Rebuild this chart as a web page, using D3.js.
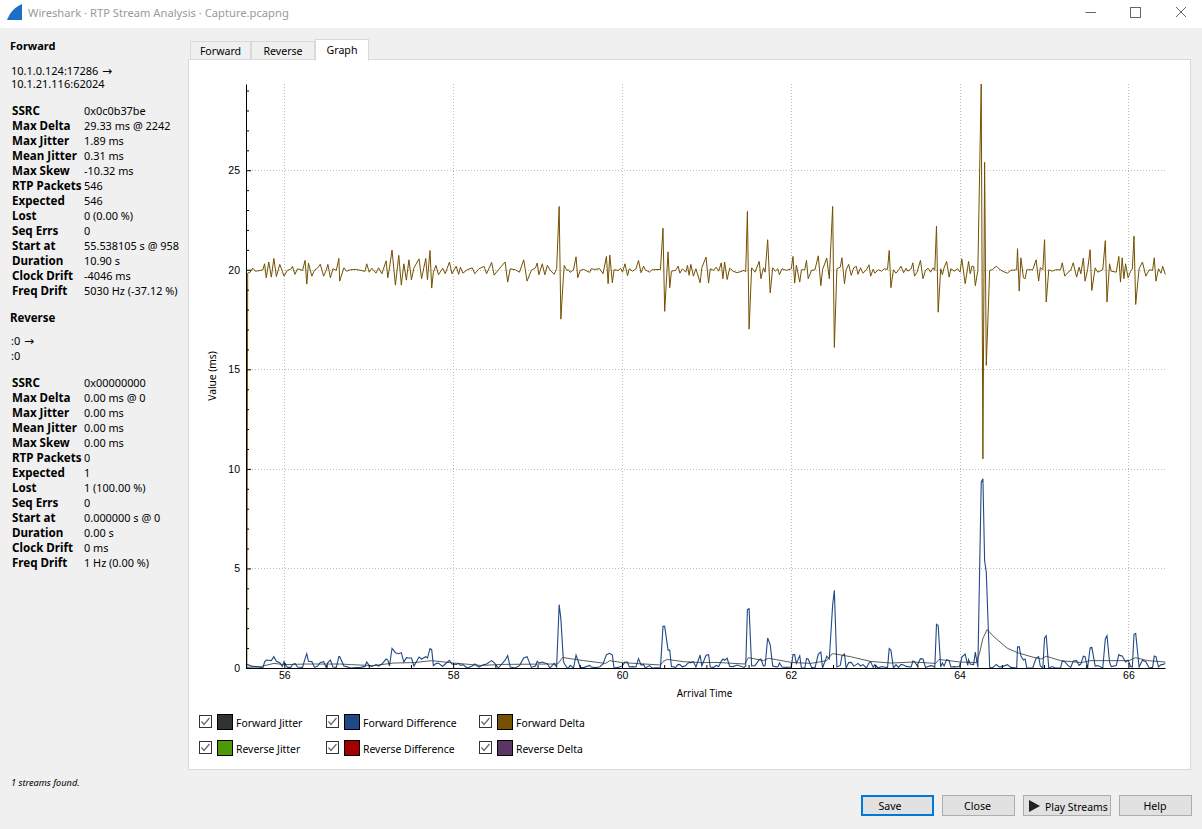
<!DOCTYPE html>
<html>
<head>
<meta charset="utf-8">
<title>RTP Stream Analysis</title>
<script src="https://cdnjs.cloudflare.com/ajax/libs/d3/7.8.5/d3.min.js"></script>
<style>
  html, body { margin: 0; padding: 0; background: #f0f0f0; overflow: hidden; }
  svg { display: block; font-family: "Noto Sans", sans-serif; font-size: 11px; fill: #000; }
  .axis text { font-size: 10.5px; fill: #000; }
  .grid { stroke: #bdbdbd; stroke-width: 1; stroke-dasharray: 1 2; }
</style>
</head>
<body>
<div id="main"></div>
<script>
const packetTimes = [
  55.55, 55.56, 55.59, 55.62, 55.65, 55.69, 55.74, 55.76, 55.78, 55.81,
  55.84, 55.87, 55.90, 55.94, 55.97, 55.99, 56.03, 56.07, 56.09, 56.12,
  56.15, 56.21, 56.24, 56.26, 56.28, 56.32, 56.35, 56.39, 56.42, 56.46,
  56.49, 56.51, 56.54, 56.57, 56.61, 56.64, 56.65, 56.70, 56.73, 56.78,
  56.84, 56.90, 56.95, 56.97, 57.00, 57.03, 57.08, 57.11, 57.15, 57.20,
  57.22, 57.24, 57.27, 57.31, 57.35, 57.38, 57.41, 57.44, 57.47, 57.50,
  57.53, 57.59, 57.62, 57.67, 57.69, 57.72, 57.74, 57.76, 57.79, 57.82,
  57.87, 57.90, 57.95, 57.98, 58.03, 58.06, 58.08, 58.11, 58.16, 58.22,
  58.25, 58.30, 58.36, 58.39, 58.45, 58.48, 58.53, 58.61, 58.64, 58.67,
  58.73, 58.78, 58.83, 58.87, 58.92, 58.97, 58.99, 59.01, 59.05, 59.08,
  59.11, 59.14, 59.19, 59.22, 59.25, 59.27, 59.30, 59.31, 59.34, 59.36,
  59.38, 59.42, 59.45, 59.47, 59.50, 59.54, 59.61, 59.63, 59.67, 59.73,
  59.77, 59.81, 59.83, 59.85, 59.88, 59.90, 59.95, 59.98, 60.00, 60.03,
  60.06, 60.08, 60.12, 60.16, 60.19, 60.22, 60.25, 60.27, 60.32, 60.35,
  60.45, 60.48, 60.50, 60.54, 60.56, 60.58, 60.63, 60.66, 60.68, 60.71,
  60.75, 60.77, 60.79, 60.81, 60.84, 60.87, 60.92, 60.94, 60.99, 61.02,
  61.04, 61.08, 61.11, 61.14, 61.17, 61.19, 61.21, 61.24, 61.27, 61.31,
  61.36, 61.44, 61.46, 61.48, 61.50, 61.53, 61.57, 61.62, 61.64, 61.67,
  61.69, 61.72, 61.75, 61.78, 61.81, 61.84, 61.86, 61.89, 61.94, 62.00,
  62.02, 62.04, 62.06, 62.10, 62.12, 62.16, 62.18, 62.20, 62.24, 62.28,
  62.32, 62.35, 62.37, 62.42, 62.45, 62.49, 62.51, 62.54, 62.58, 62.60,
  62.63, 62.65, 62.68, 62.71, 62.74, 62.77, 62.79, 62.82, 62.85, 62.89,
  62.92, 62.94, 62.97, 62.99, 63.03, 63.07, 63.10, 63.14, 63.16, 63.18,
  63.21, 63.24, 63.27, 63.30, 63.33, 63.36, 63.38, 63.42, 63.44, 63.46,
  63.49, 63.53, 63.56, 63.59, 63.62, 63.65, 63.68, 63.70, 63.72, 63.74,
  63.77, 63.79, 63.81, 63.84, 63.87, 63.89, 63.93, 63.97, 64.00, 64.02,
  64.06, 64.09, 64.10, 64.12, 64.14, 64.16, 64.18, 64.21, 64.25, 64.27,
  64.29, 64.31, 64.35, 64.38, 64.43, 64.46, 64.50, 64.56, 64.60, 64.67,
  64.68, 64.70, 64.72, 64.75, 64.77, 64.79, 64.86, 64.90, 64.93, 64.95,
  64.98, 65.00, 65.02, 65.05, 65.09, 65.13, 65.19, 65.21, 65.24, 65.28,
  65.31, 65.34, 65.38, 65.41, 65.43, 65.46, 65.48, 65.51, 65.54, 65.56,
  65.60, 65.63, 65.69, 65.72, 65.74, 65.77, 65.79, 65.85, 65.88, 65.90,
  65.92, 65.94, 65.96, 65.99, 66.02, 66.04, 66.06, 66.08, 66.12, 66.16,
  66.20, 66.24, 66.28, 66.30, 66.32, 66.35, 66.38, 66.40, 66.43,
];

const forwardDelta = [
  0, 19.83, 19.88, 20.08, 19.93, 19.95, 20, 20.3, 19.6, 20.39,
  19.63, 20.57, 19.66, 20.27, 19.93, 19.68, 19.97, 20.03, 20.17, 19.77,
  20.05, 19.97, 20.47, 19.28, 20.34, 19.68, 19.97, 20.1, 20.28, 19.68,
  19.97, 20.27, 19.6, 20.05, 19.97, 20.57, 19.43, 20.1, 19.93, 20,
  20.02, 19.97, 19.92, 20.3, 19.88, 20.08, 19.83, 20.1, 19.8, 20.45,
  19.6, 20.1, 20.99, 19.23, 20.72, 19.23, 20.3, 19.48, 20.5, 19.5,
  20.1, 20.55, 19.55, 20.57, 19.5, 20.97, 19.08, 19.88, 20.22, 19.75,
  20.08, 19.8, 20.39, 19.8, 20.18, 19.77, 20.13, 19.83, 20, 20.1,
  19.8, 20.05, 20.17, 19.8, 20.37, 19.73, 20, 20.39, 19.38, 20.05,
  20, 19.88, 20.5, 19.43, 19.97, 20.1, 20.34, 19.75, 20.3, 19.75,
  20.22, 20, 19.77, 20.05, 23.18, 17.52, 19.63, 20.22, 19.97, 20,
  19.87, 20, 20.65, 19.6, 19.97, 20.02, 19.87, 20.05, 20.02, 20.05,
  19.8, 20.67, 19.3, 20.74, 19.35, 20, 19.97, 20.07, 19.88, 20.3,
  19.7, 20.05, 19.93, 20.05, 20.47, 19.85, 20.18, 20, 19.88, 20,
  20.02, 22.09, 17.91, 20.9, 19.1, 19.93, 19.97, 20.18, 19.83, 20.05,
  19.88, 20.22, 19.72, 20.27, 19.68, 20.05, 19.35, 20.1, 20.64, 19.33,
  20.05, 19.97, 20.13, 19.93, 20.35, 19.55, 20.39, 19.51, 20.08, 19.93,
  19.85, 19.97, 19.9, 22.93, 17.02, 20.1, 19.88, 20.42, 19.55, 20.1,
  19.88, 21.51, 18.84, 20.1, 19.93, 20.05, 19.75, 20.05, 19.97, 20.05,
  20.67, 19.33, 20.23, 19.38, 20, 20, 20.47, 19.55, 19.97, 20,
  20.7, 19.2, 20, 20.59, 19.55, 23.18, 16.1, 20.05, 20.13, 20.6,
  19.3, 20, 20.27, 19.72, 20.1, 20.17, 19.77, 20.1, 19.83, 20,
  20.25, 19.68, 20.03, 19.83, 20, 19.93, 20.05, 20.02, 20.97, 19.1,
  20, 19.83, 19.97, 20.18, 19.85, 20.08, 19.93, 20.05, 20.35, 19.68,
  19.88, 20.47, 19.55, 19.97, 20.08, 19.88, 20.1, 19.97, 22.19, 17.87,
  20.05, 19.75, 20.1, 20.42, 19.63, 20.05, 19.93, 20.05, 19.88, 20.55,
  19.3, 20.13, 20.42, 19.8, 20.18, 20.17, 19.2, 19.97, 29.33, 10.5,
  25.4, 15.2, 19.97, 20, 20.18, 20.05, 19.93, 19.83, 19.97, 20,
  21.06, 18.93, 20.6, 19.6, 19.55, 20, 20, 20.5, 19.43, 20.1,
  20, 21.51, 18.38, 20, 19.93, 20, 20, 20.35, 19.68, 19.88,
  19.97, 20.35, 19.63, 20.13, 19.8, 20.59, 19.43, 20, 21.01, 18.96,
  20.1, 19.88, 20, 21.46, 18.38, 20.3, 19.93, 19.88, 20.67, 19.38,
  20.6, 19.55, 20.3, 19.6, 19.93, 20.05, 21.69, 18.26, 20.05, 20.39,
  19.68, 20, 19.97, 20.6, 19.43, 20.05, 19.83, 20.17, 19.77,
];

const forwardDifference = [
  0.17, 0.17, 0.12, 0.08, 0.07, 0.05, 0, 0.3, 0.4, 0.39,
  0.37, 0.57, 0.34, 0.27, 0.07, 0.32, 0.03, 0.03, 0.17, 0.23,
  0.05, 0.03, 0.47, 0.72, 0.34, 0.32, 0.03, 0.1, 0.28, 0.32,
  0.03, 0.27, 0.4, 0.05, 0.03, 0.57, 0.57, 0.1, 0.07, 0,
  0.02, 0.03, 0.08, 0.3, 0.12, 0.08, 0.17, 0.1, 0.2, 0.45,
  0.4, 0.1, 0.99, 0.77, 0.72, 0.77, 0.3, 0.52, 0.5, 0.5,
  0.1, 0.55, 0.45, 0.57, 0.5, 0.97, 0.92, 0.12, 0.22, 0.25,
  0.08, 0.2, 0.39, 0.2, 0.18, 0.23, 0.13, 0.17, 0, 0.1,
  0.2, 0.05, 0.17, 0.2, 0.37, 0.27, 0, 0.39, 0.62, 0.05,
  0, 0.12, 0.5, 0.57, 0.03, 0.1, 0.34, 0.25, 0.3, 0.25,
  0.22, 0, 0.23, 0.05, 3.18, 2.48, 0.37, 0.22, 0.03, 0,
  0.13, 0, 0.65, 0.4, 0.03, 0.02, 0.13, 0.05, 0.02, 0.05,
  0.2, 0.67, 0.7, 0.74, 0.65, 0, 0.03, 0.07, 0.12, 0.3,
  0.3, 0.05, 0.07, 0.05, 0.47, 0.15, 0.18, 0, 0.12, 0,
  0.02, 2.09, 2.09, 0.9, 0.9, 0.07, 0.03, 0.18, 0.17, 0.05,
  0.12, 0.22, 0.28, 0.27, 0.32, 0.05, 0.65, 0.1, 0.64, 0.67,
  0.05, 0.03, 0.13, 0.07, 0.35, 0.45, 0.39, 0.49, 0.08, 0.07,
  0.15, 0.03, 0.1, 2.93, 2.98, 0.1, 0.12, 0.42, 0.45, 0.1,
  0.12, 1.51, 1.16, 0.1, 0.07, 0.05, 0.25, 0.05, 0.03, 0.05,
  0.67, 0.67, 0.23, 0.62, 0, 0, 0.47, 0.45, 0.03, 0,
  0.7, 0.8, 0, 0.59, 0.45, 3.18, 3.9, 0.05, 0.13, 0.6,
  0.7, 0, 0.27, 0.28, 0.1, 0.17, 0.23, 0.1, 0.17, 0,
  0.25, 0.32, 0.03, 0.17, 0, 0.07, 0.05, 0.02, 0.97, 0.9,
  0, 0.17, 0.03, 0.18, 0.15, 0.08, 0.07, 0.05, 0.35, 0.32,
  0.12, 0.47, 0.45, 0.03, 0.08, 0.12, 0.1, 0.03, 2.19, 2.13,
  0.05, 0.25, 0.1, 0.42, 0.37, 0.05, 0.07, 0.05, 0.12, 0.55,
  0.7, 0.13, 0.42, 0.2, 0.18, 0.17, 0.8, 0.03, 9.33, 9.5,
  5.4, 4.8, 0.03, 0, 0.18, 0.05, 0.07, 0.17, 0.03, 0,
  1.06, 1.07, 0.6, 0.4, 0.45, 0, 0, 0.5, 0.57, 0.1,
  0, 1.51, 1.62, 0, 0.07, 0, 0, 0.35, 0.32, 0.12,
  0.03, 0.35, 0.37, 0.13, 0.2, 0.59, 0.57, 0, 1.01, 1.04,
  0.1, 0.12, 0, 1.46, 1.62, 0.3, 0.07, 0.12, 0.67, 0.62,
  0.6, 0.45, 0.3, 0.4, 0.07, 0.05, 1.69, 1.74, 0.05, 0.39,
  0.32, 0, 0.03, 0.6, 0.57, 0.05, 0.17, 0.17, 0.23,
];

const jitterTimes = [
  55.55, 55.71, 55.87, 56, 56.26, 56.66, 56.78, 57.05, 57.29, 57.53, 57.74, 58,
  58.32, 58.58, 59.14, 59.23, 59.26, 59.29, 59.38, 59.54, 59.8, 59.85, 60, 60.45,
  60.48, 60.53, 60.72, 60.92, 61.12, 61.45, 61.49, 61.67, 61.73, 61.91, 62, 62.23,
  62.42, 62.48, 62.5, 62.7, 62.94, 63.18, 63.45, 63.71, 63.75, 64, 64.19, 64.23,
  64.27, 64.32, 64.4, 64.56, 64.68, 64.84, 64.96, 65.02, 65.19, 65.43, 65.55, 65.75,
  65.87, 66, 66.08, 66.22, 66.43,
];

const forwardJitter = [
  0.03, 0.07, 0.23, 0.17, 0.2, 0.2, 0.17, 0.12, 0.25, 0.27, 0.37, 0.25,
  0.13, 0.18, 0.2, 0.2, 0.35, 0.53, 0.47, 0.37, 0.23, 0.37, 0.27, 0.15,
  0.32, 0.43, 0.32, 0.27, 0.28, 0.2, 0.52, 0.37, 0.49, 0.35, 0.28, 0.23,
  0.37, 0.7, 0.72, 0.57, 0.33, 0.25, 0.3, 0.23, 0.43, 0.3, 0.27, 0.74,
  1.49, 1.93, 1.57, 0.99, 0.77, 0.57, 0.45, 0.59, 0.37, 0.27, 0.37, 0.37,
  0.37, 0.37, 0.52, 0.37, 0.3,
];

const xMajorTicks = [56, 58, 60, 62, 64, 66];
const xMinorTicks = [56.5, 57, 57.5, 58.5, 59, 59.5, 60.5, 61, 61.5, 62.5, 63, 63.5, 64.5, 65, 65.5];
const yMajorTicks = [0, 5, 10, 15, 20, 25];
const yMinorTicks = [1, 2, 3, 4, 6, 7, 8, 9, 11, 12, 13, 14, 16, 17, 18, 19, 21, 22, 23, 24, 26, 27, 28, 29];

const legendRows = [
  ['Forward Jitter', 'Forward Difference', 'Forward Delta'],
  ['Reverse Jitter', 'Reverse Difference', 'Reverse Delta'],
];
const legendColors = [
  ['#2e3436', '#204a87', '#735100'],
  ['#4e9a06', '#a40000', '#5c3566'],
];

const forwardStats = [
  ['SSRC', '0x0c0b37be'], ['Max Delta', '29.33 ms @ 2242'], ['Max Jitter', '1.89 ms'],
  ['Mean Jitter', '0.31 ms'], ['Max Skew', '-10.32 ms'], ['RTP Packets', '546'],
  ['Expected', '546'], ['Lost', '0 (0.00 %)'], ['Seq Errs', '0'],
  ['Start at', '55.538105 s @ 958'], ['Duration', '10.90 s'], ['Clock Drift', '-4046 ms'],
  ['Freq Drift', '5030 Hz (-37.12 %)'],
];
const reverseStats = [
  ['SSRC', '0x00000000'], ['Max Delta', '0.00 ms @ 0'], ['Max Jitter', '0.00 ms'],
  ['Mean Jitter', '0.00 ms'], ['Max Skew', '0.00 ms'], ['RTP Packets', '0'],
  ['Expected', '1'], ['Lost', '1 (100.00 %)'], ['Seq Errs', '0'],
  ['Start at', '0.000000 s @ 0'], ['Duration', '0.00 s'], ['Clock Drift', '0 ms'],
  ['Freq Drift', '1 Hz (0.00 %)'],
];
const tabNames = ['Forward', 'Reverse', 'Graph'];
const buttonNames = ['Save', 'Close', 'Play Streams', 'Help'];

function label(svg, x, y, str) {
  return svg.append('text').attr('x', x).attr('y', y).text(str);
}

// the address line ends in an arrow that needs a font with a long glyph
function arrowLabel(svg, x, y, str) {
  const t = label(svg, x, y, str);
  t.append('tspan').style('font-family', '"DejaVu Sans"').style('font-size', '12px').text(' →');
}

function drawChrome(svg) {
  svg.append('rect').attr('width', 1202).attr('height', 28).attr('fill', '#fff');
  svg.append('path')
    .attr('d', 'M7 20 C10 12 15 7 22 4 L22 20 Z')
    .attr('fill', '#1c6fc4');
  label(svg, 28, 17, 'Wireshark · RTP Stream Analysis · Capture.pcapng')
    .attr('fill', '#9a9a9a').style('font-size', '11.2px');

  svg.append('path').attr('d', 'M1085.5 12.5H1096').attr('stroke', '#666').attr('fill', 'none');
  svg.append('rect').attr('x', 1130.5).attr('y', 7.5).attr('width', 10).attr('height', 10)
    .attr('stroke', '#666').attr('fill', 'none');
  svg.append('path').attr('d', 'M1176 7L1186 17M1186 7L1176 17').attr('stroke', '#666').attr('fill', 'none');

  // tab pane and its tabs
  svg.append('rect').attr('x', 188.5).attr('y', 59.5).attr('width', 1002).attr('height', 710)
    .attr('fill', '#fff').attr('stroke', '#d9d9d9');
  const tabX = [190, 251, 315];
  const tabW = [61, 64, 54];
  tabNames.forEach((name, i) => {
    const active = name === 'Graph';
    svg.append('rect')
      .attr('x', tabX[i] + 0.5).attr('y', active ? 39.5 : 41.5)
      .attr('width', tabW[i] - 1).attr('height', active ? 21 : 18)
      .attr('fill', active ? '#fff' : '#f0f0f0').attr('stroke', '#d9d9d9');
    if (active) {
      svg.append('rect').attr('x', tabX[i] + 1).attr('y', 58).attr('width', tabW[i] - 2).attr('height', 4).attr('fill', '#fff');
    }
    label(svg, tabX[i] + (tabW[i] / 2), active ? 54 : 55, name)
      .style('text-anchor', 'middle').style('font-size', '10.6px');
  });

  // left side panel
  label(svg, 10, 50, 'Forward').style('font-weight', 'bold');
  arrowLabel(svg, 11, 75, '10.1.0.124:17286');
  label(svg, 11, 88, '10.1.21.116:62024');
  drawStats(svg, forwardStats, 115);
  label(svg, 10, 322, 'Reverse').style('font-weight', 'bold').style('font-size', '11.5px');
  arrowLabel(svg, 11, 345, ':0');
  label(svg, 11, 360, ':0');
  drawStats(svg, reverseStats, 387);
  label(svg, 11, 786, '1 streams found.').style('font-style', 'italic').style('font-size', '9.2px');

  // bottom buttons
  const buttonX = [861, 942, 1023, 1119];
  const buttonW = [73, 73, 88, 73];
  const buttonTextX = [890, 977.5, 1045, 1155];
  buttonNames.forEach((name, i) => {
    const focused = name === 'Save';
    svg.append('rect')
      .attr('x', buttonX[i] + (focused ? 1 : 0.5)).attr('y', focused ? 796 : 795.5)
      .attr('width', buttonW[i] - (focused ? 2 : 1)).attr('height', focused ? 19 : 20)
      .attr('fill', '#e1e1e1').attr('stroke', focused ? '#0078d7' : '#adadad')
      .attr('stroke-width', focused ? 2 : 1);
    if (name === 'Play Streams') {
      svg.append('path').attr('d', 'M1029 800L1040 806L1029 812Z').attr('fill', '#222');
      label(svg, buttonTextX[i], 811, name).style('font-size', '10.4px');
    } else {
      label(svg, buttonTextX[i], 810, name).style('text-anchor', 'middle').style('font-size', '10.6px');
    }
  });
}

function drawStats(svg, stats, top) {
  stats.forEach((row, i) => {
    label(svg, 12, top + (i * 15), row[0]).style('font-weight', 'bold').style('font-size', '11.6px');
    label(svg, 84, top + (i * 15), row[1]).style('font-size', '10.9px');
  });
}

function drawLegend(svg) {
  const checkX = [199, 326, 479];
  const rowY = [714, 740];
  legendRows.forEach((row, r) => {
    row.forEach((name, c) => {
      const g = svg.append('g').attr('transform', `translate(${checkX[c]}, ${rowY[r]})`);
      g.append('rect').attr('x', 0.5).attr('y', 1.5).attr('width', 12).attr('height', 12)
        .attr('fill', '#fff').attr('stroke', '#333');
      g.append('path').attr('d', 'M2.5 7.5L5 10.5L10.5 4').attr('fill', 'none').attr('stroke', '#666').attr('stroke-width', 1.2);
      g.append('rect').attr('x', 18.5).attr('y', 0.5).attr('width', 15).attr('height', 15)
        .attr('fill', legendColors[r][c]).attr('stroke', '#000');
      label(g, 37, 12.5, name).style('font-size', '10.4px');
    });
  });
}

function main() {
  const width = 1202;
  const height = 829;
  const plot = { left: 246, right: 1165, top: 84, bottom: 668 };

  const svg = d3.select('#main')
    .append('svg')
    .attr('width', width)
    .attr('height', height);

  drawChrome(svg);

  const xScale = d3.scaleLinear()
    .domain([55.546, 66.433])
    .range([plot.left, plot.right]);

  const yScale = d3.scaleLinear()
    .domain([0, 29.33])
    .range([plot.bottom, plot.top]);

  // dotted grid
  svg.append('g').selectAll('line')
    .data(xMajorTicks)
    .enter()
    .append('line')
    .classed('grid', true)
    .attr('x1', d => Math.round(xScale(d)) + 0.5)
    .attr('x2', d => Math.round(xScale(d)) + 0.5)
    .attr('y1', plot.top)
    .attr('y2', plot.bottom);

  svg.append('g').selectAll('line')
    .data(yMajorTicks.slice(1))
    .enter()
    .append('line')
    .classed('grid', true)
    .attr('x1', plot.left)
    .attr('x2', plot.right)
    .attr('y1', d => Math.round(yScale(d)) + 0.5)
    .attr('y2', d => Math.round(yScale(d)) + 0.5);

  // series
  const deltaLine = d3.line()
    .x((d, i) => xScale(packetTimes[i]))
    .y(d => yScale(d));

  const jitterLine = d3.line()
    .x((d, i) => xScale(jitterTimes[i]))
    .y(d => yScale(d));

  const series = svg.append('g').attr('transform', 'translate(0.5, 0)');

  series.append('path')
    .attr('d', deltaLine(forwardDelta))
    .attr('fill', 'none')
    .attr('stroke', '#735100')
    .attr('stroke-width', 1);

  series.append('path')
    .attr('d', deltaLine(forwardDifference))
    .attr('fill', 'none')
    .attr('stroke', '#204a87')
    .attr('stroke-width', 1.1);

  series.append('path')
    .attr('d', jitterLine(forwardJitter))
    .attr('fill', 'none')
    .attr('stroke', '#2e3436')
    .attr('stroke-width', 0.8);

  // axes
  const xAxis = d3.axisBottom(xScale)
    .tickValues(xMajorTicks)
    .tickFormat(d3.format('d'))
    .tickSizeInner(-5)
    .tickSizeOuter(0)
    .tickPadding(4);

  const xMinor = d3.axisBottom(xScale)
    .tickValues(xMinorTicks)
    .tickFormat('')
    .tickSizeInner(-3)
    .tickSizeOuter(0);

  const yAxis = d3.axisLeft(yScale)
    .tickValues(yMajorTicks)
    .tickFormat(d3.format('d'))
    .tickSizeInner(-5)
    .tickSizeOuter(0)
    .tickPadding(6);

  const yMinor = d3.axisLeft(yScale)
    .tickValues(yMinorTicks)
    .tickFormat('')
    .tickSizeInner(-3)
    .tickSizeOuter(0);

  svg.append('g')
    .attr('transform', `translate(0, ${plot.bottom})`)
    .classed('axis', true)
    .call(xMinor)
    .call(g => g.select('.domain').remove());

  svg.append('g')
    .attr('transform', `translate(0, ${plot.bottom})`)
    .classed('axis', true)
    .call(xAxis);

  svg.append('g')
    .attr('transform', `translate(${plot.left}, 0)`)
    .classed('axis', true)
    .call(yMinor)
    .call(g => g.select('.domain').remove());

  svg.append('g')
    .attr('transform', `translate(${plot.left}, 0)`)
    .classed('axis', true)
    .call(yAxis);

  svg.append('text')
    .attr('transform', 'rotate(-90)')
    .attr('x', -376)
    .attr('y', 216)
    .style('text-anchor', 'middle')
    .style('font-size', '10.2px')
    .text('Value (ms)');

  svg.append('text')
    .attr('x', 704.5)
    .attr('y', 697)
    .style('text-anchor', 'middle')
    .style('font-size', '9.9px')
    .text('Arrival Time');

  drawLegend(svg);
}

document.addEventListener('DOMContentLoaded', main);
</script>
</body>
</html>
